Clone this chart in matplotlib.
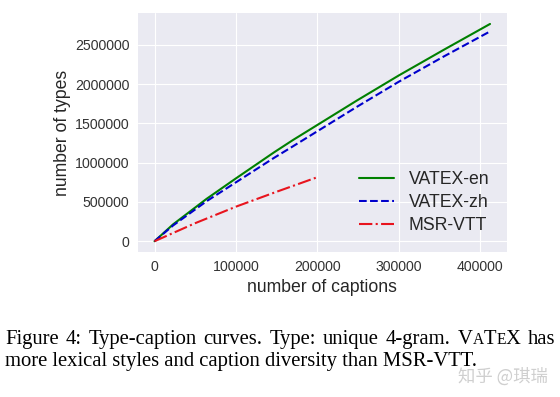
import numpy as np
import matplotlib.pyplot as plt

plt.style.use("seaborn-v0_8-darkgrid")
plt.rcParams["font.family"] = ["Liberation Sans", "DejaVu Sans"]

# data (number of captions -> number of unique 4-grams)
en_x = [0, 22700, 64000, 100000, 146600, 170300, 200000, 248400, 300000, 355000, 412000]
en_y = [0, 214000, 540000, 800000, 1130000, 1290000, 1480000, 1790000, 2110000, 2435000, 2765000]

zh_x = [0, 22700, 64000, 100000, 146600, 170300, 200000, 248400, 300000, 355000, 412000]
zh_y = [0, 200000, 510000, 750000, 1060000, 1210000, 1400000, 1710000, 2030000, 2350000, 2670000]

msr_x = [0, 50000, 100000, 150000, 200000]
msr_y = [0, 230000, 440000, 630000, 815000]

labels = ["VATEX-en", "VATEX-zh", "MSR-VTT"]

fig = plt.figure(figsize=(5.6, 3.97), dpi=100)
fig.patch.set_facecolor("white")
ax = fig.add_axes([0.246, 0.365, 0.659, 0.602])

ax.plot(en_x, en_y, color="g", linestyle="-", linewidth=1.5, label=labels[0])
ax.plot(zh_x, zh_y, color="#0000cc", linestyle="--", linewidth=1.5, label=labels[1])
ax.plot(msr_x, msr_y, color="#e8141e", linestyle="-.", linewidth=1.5, label=labels[2])

ax.set_xticks([0, 100000, 200000, 300000, 400000])
ax.set_yticks([0, 500000, 1000000, 1500000, 2000000, 2500000])
ax.ticklabel_format(style="plain")
ax.tick_params(labelsize=10.2, colors="#333333", pad=6, length=0)
ax.set_xlabel("number of captions", fontsize=12.7, color="#262626", labelpad=3)
ax.set_ylabel("number of types", fontsize=12.7, color="#262626", labelpad=3)

ax.legend(loc="lower right", fontsize=12.7, frameon=False, labelspacing=0.35,
          handlelength=2.0, borderaxespad=0.6)

# caption below the chart, first line justified like in the paper
serif = ["Liberation Serif", "DejaVu Serif"]
fs = 14.9
r = fig.canvas.get_renderer()
inv = fig.transFigure.inverted()
words = [[("Figure", 1)], [("4:", 1)], [("Type-caption", 1)], [("curves.", 1)],
         [("Type:", 1)], [("unique", 1)], [("4-gram.", 1)],
         [("V", 1), ("A", 0.75), ("T", 1), ("E", 0.75), ("X", 1)], [("has", 1)]]
y1 = 1 - 344 / 397
left, right = 5, 555

# measure word widths first
widths = []
for w in words:
    total = 0
    for txt, s in w:
        t = fig.text(0, 0, txt, fontsize=fs * s, family=serif)
        total += t.get_window_extent(r).width
        t.remove()
    widths.append(total)
gap = (right - left - sum(widths)) / (len(words) - 1)

xpix = left
for w, wd in zip(words, widths):
    xp = xpix
    for txt, s in w:
        t = fig.text(xp / 560, y1, txt, fontsize=fs * s, family=serif,
                     color="black", va="baseline", ha="left")
        xp = t.get_window_extent(r).x1
    xpix += wd + gap

fig.text(5 / 560, 1 - 366 / 397, "more lexical styles and caption diversity than MSR-VTT.",
         fontsize=fs, family=serif, color="black", va="baseline", ha="left")

fig.text(458 / 560, 1 - 382 / 397, "知乎 @琪瑞", fontsize=12.5,
         family=["Noto Sans CJK SC", "DejaVu Sans"], color="#cfcfcf",
         va="baseline", ha="left")

fig.savefig("out.png", dpi=100)
